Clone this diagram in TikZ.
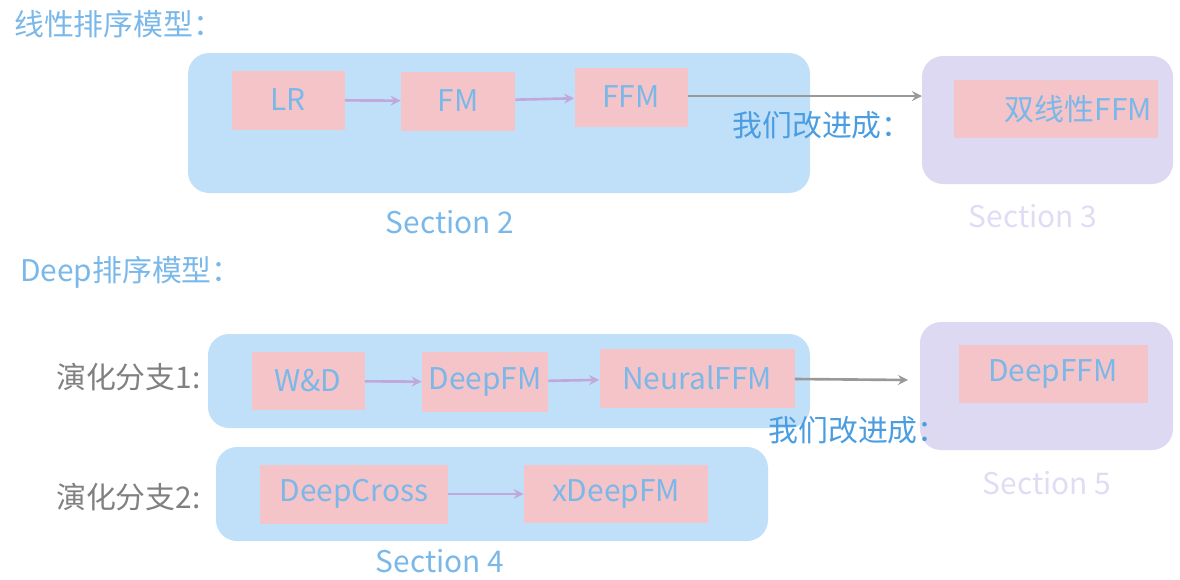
\documentclass[tikz,border=0pt]{standalone}
\usepackage{fontspec}
\setmainfont{Noto Sans CJK SC}
\definecolor{panelblue}{HTML}{C0DFF9}
\definecolor{panelpurple}{HTML}{DDD9F2}
\definecolor{boxpink}{HTML}{F4C4C8}
\definecolor{txtblue}{HTML}{7AB8EA}
\definecolor{darkblue}{HTML}{4A9DE0}
\definecolor{arrpurple}{HTML}{C0A8DC}
\definecolor{secgrey}{HTML}{E0DCF4}
\begin{document}
\begin{tikzpicture}[x=0.02cm,y=-0.02cm,
  panel/.style={rounded corners=12pt, draw=none},
  box/.style={fill=boxpink, text=txtblue, font=\fontsize{17}{17}\selectfont},
  flow/.style={->, arrpurple, line width=1.5pt, >=stealth},
  imp/.style={->, gray!80, line width=1.5pt, >=stealth},
  lbl/.style={font=\fontsize{17}{17}\selectfont}]
\useasboundingbox (0,0) rectangle (1180,579);
% panels
\fill[panel, panelblue] (188,53) rectangle (810,193);
\fill[panel, panelpurple] (922,56) rectangle (1173,184);
\fill[panel, panelblue] (208,334) rectangle (810,428);
\fill[panel, panelpurple] (920,322) rectangle (1173,450);
\fill[panel, panelblue] (216,447) rectangle (768,541);
% titles
\node[lbl, text=txtblue, anchor=west] (t1) at (8,24) {线性排序模型：};
\node[lbl, text=txtblue, anchor=west] (t2) at (14,272) {Deep排序模型：};
\node[lbl, text=gray, anchor=west] (b1) at (50,377) {演化分支1:};
\node[lbl, text=gray, anchor=west] (b2) at (50,497) {演化分支2:};
% boxes
\node[box, minimum width=113*0.02cm, minimum height=59*0.02cm] (lr) at (288,100) {LR};
\node[box, minimum width=114*0.02cm, minimum height=59*0.02cm] (fm) at (458,101) {FM};
\node[box, minimum width=113*0.02cm, minimum height=59*0.02cm] (ffm) at (631,97) {FFM};
\node[box, minimum width=188*0.02cm, minimum height=58*0.02cm] (bffm) at (1056,109) {\hspace{1.5em}双线性FFM};
\node[box, minimum width=113*0.02cm, minimum height=58*0.02cm] (wd) at (308,381) {W\&D};
\node[box, minimum width=126*0.02cm, minimum height=60*0.02cm] (dfm) at (485,382) {DeepFM};
\node[box, minimum width=195*0.02cm, minimum height=59*0.02cm] (nffm) at (697,378) {NeuralFFM};
\node[box, minimum width=189*0.02cm, minimum height=58*0.02cm] (dffm) at (1053,374) {DeepFFM};
\node[box, minimum width=188*0.02cm, minimum height=59*0.02cm] (dc) at (354,494) {DeepCross};
\node[box, minimum width=184*0.02cm, minimum height=58*0.02cm] (xdfm) at (616,494) {xDeepFM};
% arrows
\draw[flow] (lr) -- (fm);
\draw[flow] (fm) -- (ffm);
\draw[flow] (wd) -- (dfm);
\draw[flow] (dfm) -- (nffm);
\draw[flow] (dc) -- (xdfm);
\coordinate (e1) at (922,96);
\coordinate (e2) at (908,380);
\draw[imp] (ffm.east |- 0,96) -- (e1);
\draw[imp] (nffm.east |- 0,379) -- (e2);
% improve labels
\node[lbl, text=darkblue] (i1) at (822,125) {我们改进成：};
\node[lbl, text=darkblue] (i2) at (858,430) {我们改进成：};
% section labels
\node[lbl, text=txtblue] (s2) at (450,222) {Section 2};
\node[lbl, text=secgrey] (s3) at (1033,216) {Section 3};
\node[lbl, text=txtblue] (s4) at (440,561) {Section 4};
\node[lbl, text=secgrey] (s5) at (1047,483) {Section 5};
\end{tikzpicture}
\end{document}
